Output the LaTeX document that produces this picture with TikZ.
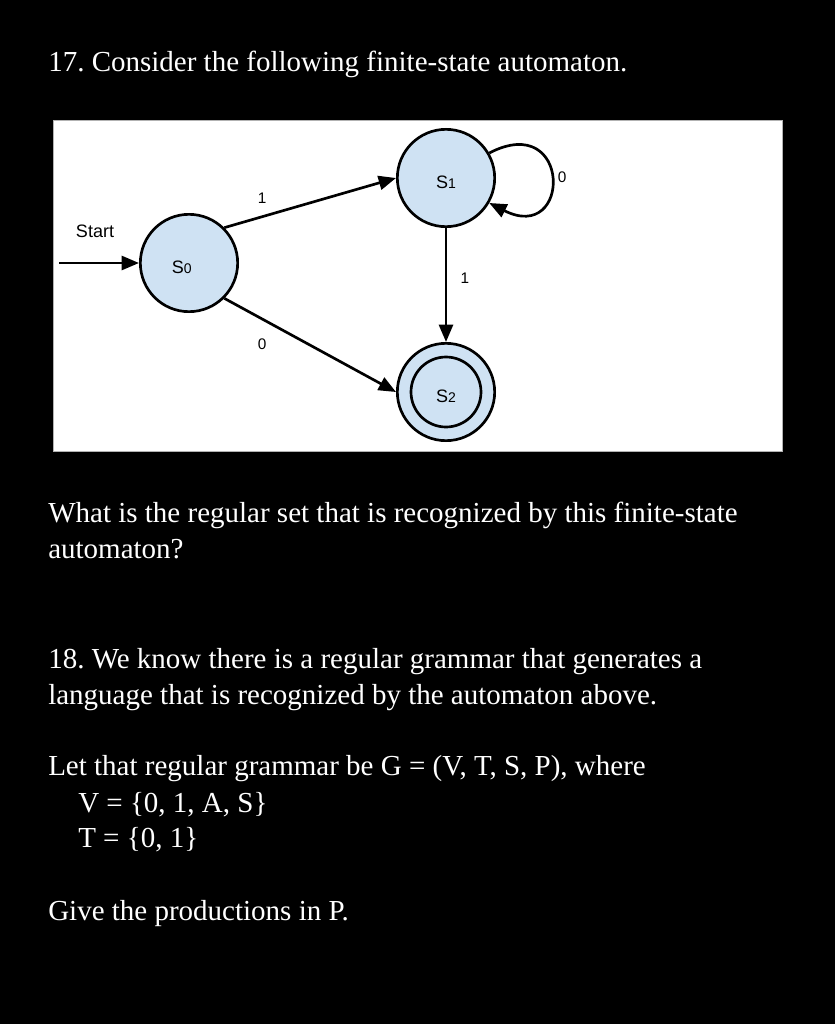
\documentclass[tikz,border=0pt]{standalone}
\usepackage{fontspec}
\setmainfont{Liberation Serif}
\newfontfamily\diagfont{Liberation Sans}
\usetikzlibrary{arrows.meta, positioning}
\definecolor{stateblue}{HTML}{CFE2F3}
\frenchspacing

\newcommand{\qsize}{\fontsize{21.75}{27}\selectfont}
\newcommand{\statelabel}[1]{S{\fontsize{10.5}{12}\selectfont #1}}

\begin{document}
\begin{tikzpicture}[x=0.75pt, y=-0.75pt,
    txt/.style={anchor=base west, inner sep=0pt, text=white, font=\qsize},
    state/.style={circle, draw, line width=2pt, fill=stateblue, minimum size=73pt, inner sep=0pt,
        text height=15.5pt, text depth=0pt, font=\diagfont\fontsize{13.5}{15}\selectfont},
    edge/.style={line width=2pt, -{Triangle[length=13pt, width=10.5pt]}},
    lbl/.style={inner sep=0pt, font=\diagfont\fontsize{11.5}{13}\selectfont}]
        % Page and panel
        \useasboundingbox (0,0) rectangle (835,1024);
        \fill[black] (0,0) rectangle (835,1024);
        \filldraw[fill=white, draw=gray!60, line width=0.75pt] (53,120) rectangle (782,451);

        % Question 17
        \node[txt] (q17) at (48,72) {17. Consider the following finite-state automaton.};

        % States
        \node[state] (s0) at (189,263) {\kern-11pt\statelabel{0}};
        \node[state] (s1) at (446,178) {\statelabel{1}};
        \node[state] (s2) at (446,392) {\statelabel{2}};
        \draw[line width=2pt] (s2) circle (35);
        \coordinate (start) at (59,263);

        % Transitions
        \draw[edge] (start) -- (s0) node[lbl, pos=.45, above=18pt, font=\diagfont\fontsize{13.5}{15}\selectfont] (startlbl) {Start};
        \draw[edge] (s0.45) -- (s1.west) node[lbl, pos=.22, above=9pt] (l01) {1};
        \draw[edge] (s0.-45) -- (s2.west) node[lbl, pos=.22, below=14pt] (l02) {0};
        \draw[edge] (s1) -- (s2) node[lbl, pos=.44, right=10pt] (l12) {1};
        \draw[edge] (s1.30) .. controls (572,110) and (572,245) .. (s1.-30) node[lbl, pos=.5, right=4pt] (l11) {0};

        % Remaining text
        \node[txt] (q17a) at (48,522) {What is the regular set that is recognized by this finite-state};
        \node[txt] (q17b) at (48,558) {automaton?};
        \node[txt] (q18) at (48,668) {18. We know there is a regular grammar that generates a};
        \node[txt] (q18a) at (48,704) {language that is recognized by the automaton above.};
        \node[txt] (q18b) at (48,775) {Let that regular grammar be G = (V, T, S, P), where};
        \node[txt] (setv) at (78,812) {V = \{0, 1, A, S\}};
        \node[txt] (sett) at (78,847) {T = \{0, 1\}};
        \node[txt] (q18c) at (48,920) {Give the productions in P.};
    \end{tikzpicture}
\end{document}
